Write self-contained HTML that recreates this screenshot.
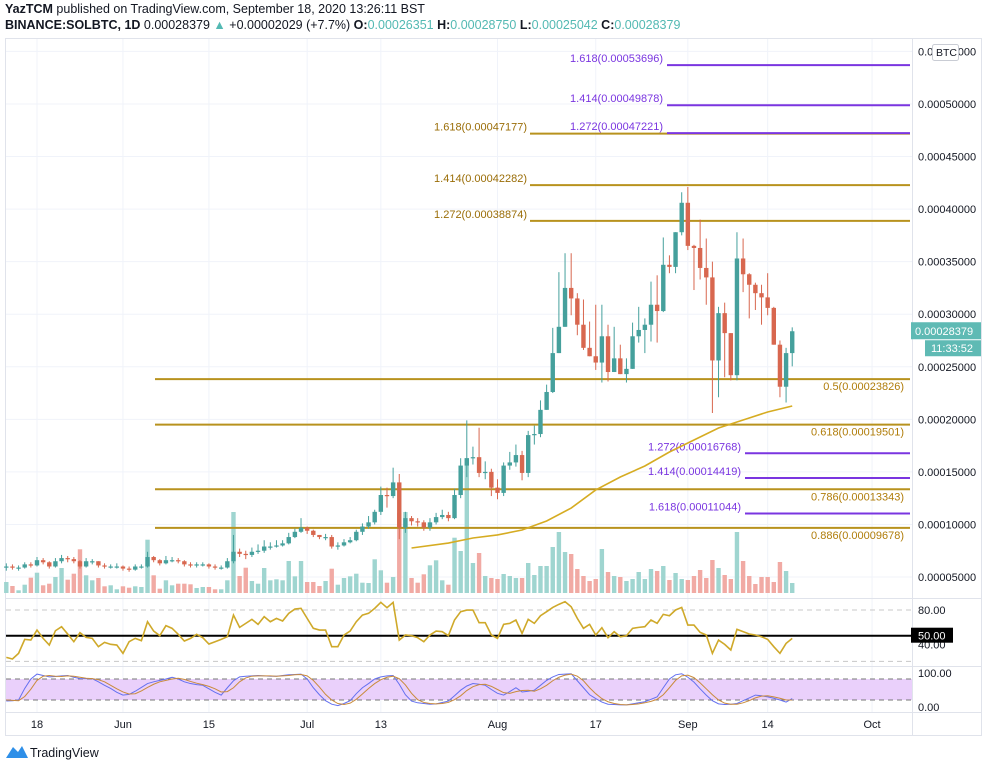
<!DOCTYPE html>
<html><head><meta charset="utf-8">
<style>
body{margin:0;background:#fff;width:987px;height:768px;overflow:hidden;font-family:"Liberation Sans",sans-serif}
#hdr1{position:absolute;left:5px;top:2px;font-size:12.5px;color:#131722}
#hdr2{position:absolute;left:5px;top:18px;font-size:12.5px;color:#131722}
.t{color:#53b9b3}
svg{position:absolute;left:0;top:0}
</style></head><body>
<div id="hdr1"><b>YazTCM</b> published on TradingView.com, September 18, 2020 13:26:11 BST</div>
<div id="hdr2"><b>BINANCE:SOLBTC, 1D</b> 0.00028379 <span class="t">▲</span> +0.00002029 (+7.7%) <b>O:</b><span class="t">0.00026351</span> <b>H:</b><span class="t">0.00028750</span> <b>L:</b><span class="t">0.00025042</span> <b>C:</b><span class="t">0.00028379</span></div>
<svg id="chart" width="987" height="768"></svg>
<script>
// ---- data (prices in 1e-5 BTC) ----
const closes=[6.0,5.9,5.9,6.2,6.1,6.6,6.4,6.0,6.5,6.8,6.7,6.5,6.0,6.5,6.5,6.1,6.0,6.0,6.0,5.8,5.7,6.0,6.0,
6.9,6.6,6.3,6.6,6.6,6.5,6.2,6.1,6.2,6.2,6.0,5.9,5.9,
6.5,7.4,7.2,7.1,7.4,7.5,7.9,7.9,8.0,8.2,8.8,9.3,9.7,9.4,9.0,8.8,8.8,
7.9,8.0,8.3,8.5,9.3,9.8,10.2,11.2,12.8,12.7,14.0,9.7,10.6,10.3,10.2,9.7,10.2,10.7,
10.9,10.6,12.8,15.6,16.3,16.4,14.9,15.0,13.5,13.0,15.6,15.9,16.6,14.9,18.5,18.6,
20.9,22.6,26.3,28.8,32.5,31.5,29.0,26.8,26.0,25.4,27.9,24.5,25.8,24.3,24.8,27.9,28.5,29.0,30.9,30.3,34.7,34.5,37.8,40.6,36.5,36.3,34.4,33.5,25.6,30.1,28.2,24.2,35.3,33.8,32.8,32.0,31.6,30.6,27.1,23.1,26.3,28.379];
const highs=[6.3,6.2,6.1,6.4,6.4,6.9,6.8,6.5,6.8,7.1,7.0,6.9,6.6,6.8,6.7,6.5,6.3,6.2,6.3,6.1,6.0,6.2,6.2,
7.4,7.0,6.7,7.0,6.9,6.8,6.6,6.4,6.4,6.4,6.3,6.2,6.1,
6.8,9.0,7.7,7.5,7.8,8.1,8.5,8.3,8.5,8.5,9.2,9.6,10.6,9.8,9.5,9.0,9.1,
9.0,8.3,8.6,8.8,9.5,10.1,10.8,11.4,13.6,13.5,15.4,14.8,11.2,10.8,10.6,10.4,10.6,11.1,
11.4,11.2,13.4,16.3,19.9,17.4,19.2,16.0,15.3,14.3,15.9,16.9,17.6,17.0,18.9,19.4,
21.8,23.3,28.7,34.0,35.8,35.8,32.0,31.4,29.3,30.9,30.9,29.0,28.8,27.1,25.8,29.2,30.7,29.6,33.1,33.7,37.3,35.6,37.3,41.6,42.1,36.6,39.0,37.2,35.0,30.7,31.1,28.2,37.8,37.2,33.9,33.0,32.8,33.9,30.7,27.5,26.8,28.75];
const lows=[5.6,5.7,5.6,5.8,5.9,6.0,6.2,5.8,5.9,6.3,6.4,6.3,5.8,5.9,6.2,5.9,5.8,5.8,5.8,5.6,5.5,5.6,5.8,
5.9,6.4,6.1,6.2,6.4,6.3,6.0,5.9,5.9,6.0,5.8,5.7,5.7,
5.8,6.3,6.9,6.7,6.9,7.2,7.3,7.6,7.8,7.9,8.1,8.7,9.2,9.1,8.8,8.6,8.5,
7.7,7.6,7.9,8.2,8.4,9.0,9.6,10.0,10.9,11.6,12.5,8.6,9.2,9.9,9.8,9.4,9.4,10.0,
10.5,10.3,10.5,12.5,14.5,15.7,14.5,14.3,12.7,12.4,12.7,15.2,15.5,14.2,14.5,17.6,
18.3,20.9,22.5,27.1,28.8,29.9,28.0,26.6,26.4,24.7,23.5,23.6,24.5,24.9,23.5,25.5,27.3,26.3,27.4,27.3,30.2,33.9,33.9,37.5,36.1,32.3,33.3,30.9,20.6,22.1,24.0,23.7,23.7,32.1,29.6,30.4,29.0,29.9,27.1,22.1,21.6,25.04];
const volumes=[11,7,2.7,8.3,15.3,20.3,7.7,9.3,16,25,13.3,19.3,43.7,17.7,12.7,15,6.7,7.7,3.7,6.7,5.3,6.7,6,53.3,17.7,4.3,12.7,7.7,9.3,9.3,8.7,5,6,6,3.7,3.7,12.7,81,17,25.3,12,9.3,25,12.7,13.7,12.7,32,16.7,32,11,11,7,12,24.3,8.3,15,16.7,19.3,10.3,10,33.7,22.7,10.3,16,80,81,15,10.3,18.7,27.7,32.7,12.7,8.3,55.3,
42,135,30,40,17,15,14,19,17,15,15,30,18,27,27,46,61,41,39,24,17,12,14,44,21,17,16,12,14,21,14,24,22,27,13,20,14,13,17,23,15,33,25,18,14,61,32,17,9,16,16,11,31,22,10];
const maIdx=[66,72,76,80,84,88,92,96,100,104,108,112,116,120,124,128];
const maVal=[7.76,8.23,8.71,9.0,9.47,10.33,11.56,13.28,14.51,15.56,16.89,18.03,19.17,19.94,20.7,21.27];
const rsi=[24.7,22.8,29.4,45.7,44.9,56.6,46.9,39.1,55.8,60.5,51.9,43,53.5,48,46.9,37.2,42.2,39.9,39.1,29.4,43,46.9,44.2,66.3,55.4,50,61.7,58.6,51.6,43.8,46.9,51.6,47.7,40.3,43,45.7,48.8,74.1,59.7,64.4,69.1,63.2,72.2,66.3,70.2,67.1,76.1,81.1,81.9,70.2,58.6,56.6,56.6,37.2,37.2,50.8,55.4,66.3,74.1,76.1,81.9,88.9,82.7,88.9,44.9,50.8,50,47.7,43,50.8,55.4,54.7,50,68.3,78,79.9,79.9,
65.2,65.2,50.8,46.9,63.2,64.4,68.3,52.7,69.1,64.4,73.3,78,83,86.6,89.7,83.8,70.2,58.6,63.2,50.8,59.3,47.7,54.7,48.8,50,58.6,59.7,60.5,68.3,64.4,74.9,73.3,80,83,62.4,62.4,53.9,50.8,29.4,44.9,39.9,33.3,57.4,54.7,52,50.8,48.8,45.7,37.2,29.4,41,46.9];
const stochK=[17,18,20,53,80,94,90,86,87,89,90,85,81,81,81,72,62,53,42,34,36,45,56,67,72,76,80,85,80,72,67,64,62,52,42,34,55,75,86,88,89,90,89,88,88,90,92,93,94,80,55,35,18,8,4,10,18,38,55,67,80,86,89,90,65,35,17,12,10,8,9,13,17,32,48,60,67,65,62,50,39,34,44,55,43,45,48,62,76,86,93,94,95,75,55,35,24,14,8,7,6,6,9,12,15,22,29,55,80,92,95,85,71,52,34,18,9,7,8,10,18,26,34,32,29,25,20,14,24];
const stochD=[20,19,18,30,51,76,88,90,88,87,89,88,85,82,81,78,72,62,52,43,37,38,46,56,65,72,76,80,82,79,73,68,64,59,52,43,44,55,72,83,88,89,89,89,88,89,90,92,93,89,76,57,36,20,10,7,11,22,37,53,67,78,85,88,81,63,39,21,13,10,9,10,13,21,32,47,58,64,65,59,50,41,39,44,47,48,45,52,62,75,85,91,94,88,75,55,38,24,15,10,7,6,7,9,12,16,22,35,55,76,89,91,84,69,52,35,20,11,8,8,12,18,26,31,32,29,25,20,20];
const priceTicks=[5,10,15,20,25,30,35,40,45,50,55];
const dateTicks=[[5,"18"],[19,"Jun"],[33,"15"],[49,"Jul"],[61,"13"],[80,"Aug"],[96,"17"],[111,"Sep"],[124,"14"],[141,"Oct"]];
const fibGold=[[23.826,155,"0.5(0.00023826)","right"],[19.501,155,"0.618(0.00019501)","right"],[13.343,155,"0.786(0.00013343)","right"],[9.678,155,"0.886(0.00009678)","right"],[38.874,530,"1.272(0.00038874)","left"],[42.282,530,"1.414(0.00042282)","left"],[47.177,530,"1.618(0.00047177)","left"]];
const fibPurple=[[53.696,667,"1.618(0.00053696)"],[49.878,667,"1.414(0.00049878)"],[47.221,667,"1.272(0.00047221)"],[16.768,745,"1.272(0.00016768)"],[14.419,745,"1.414(0.00014419)"],[11.044,745,"1.618(0.00011044)"]];

// ---- scales ----
const X=i=>37+(i-5)*6.14;
const PY=p=>577-(p-5)*10.512;
const VY=v=>593-v;
const RY=v=>635.7-(v-50)*0.857;
const SY=v=>707-v*0.35;
const NS="http://www.w3.org/2000/svg";
const svg=document.getElementById('chart');
function el(tag,attrs,parent){const e=document.createElementNS(NS,tag);for(const k in attrs)e.setAttribute(k,attrs[k]);(parent||svg).appendChild(e);return e;}
function txt(s,attrs){const e=el('text',attrs);e.textContent=s;return e;}

// frame & grid
let g=el('g',{});


el('rect',{x:5.5,y:38.5,width:976,height:697,fill:'none',stroke:'#e0e3eb'},g);
priceTicks.forEach(p=>el('line',{x1:6,x2:912,y1:PY(p),y2:PY(p),stroke:'#f0f3fa'},g));
dateTicks.forEach(d=>el('line',{x1:X(d[0]),x2:X(d[0]),y1:39,y2:712,stroke:'#f0f3fa'},g));
el('line',{x1:912.5,x2:912.5,y1:39,y2:735,stroke:'#e0e3eb'},g);
el('line',{x1:6,x2:982,y1:598.5,y2:598.5,stroke:'#e0e3eb'},g);
el('line',{x1:6,x2:982,y1:666.5,y2:666.5,stroke:'#e0e3eb'},g);
el('line',{x1:6,x2:982,y1:712.5,y2:712.5,stroke:'#e0e3eb'},g);

// volume
volumes.forEach((v,i)=>{
  const up=i==0?true:closes[i]>=closes[i-1];
  const r=el('rect',{x:X(i)-2.2,y:VY(v),width:4.4,height:v,fill:up?'#9fd5d0':'#f1aaa4'});
  
  
});

// fib lines
fibGold.forEach(f=>{
  const y=PY(f[0]);
  const l=el('line',{x1:f[1],x2:910,y1:y,y2:y,stroke:'#b8921e','stroke-width':2});
  
  
  if(f[3]=="right"){const t=txt(f[2],{x:904,y:y+11,'font-size':11,fill:'#b07d0a','text-anchor':'end'});}
  else{const t=txt(f[2],{x:527,y:y-3,'font-size':11,fill:'#9a6d07','text-anchor':'end'});}
});
fibPurple.forEach(f=>{
  const y=PY(f[0]);
  const l=el('line',{x1:f[1],x2:910,y1:y,y2:y,stroke:'#7a35e0','stroke-width':2});
  
  
  const t=txt(f[2],{x:f[1]-4,y:y-3,'font-size':11,fill:'#7a35e0','text-anchor':'end'});
  
  
});

// moving average
const ma=el('polyline',{points:maIdx.map((i,k)=>X(i)+','+PY(maVal[k])).join(' '),fill:'none',stroke:'#d6ac22','stroke-width':1.6});



// candles
closes.forEach((c,i)=>{
  const o=i==0?c:closes[i-1];
  const up=c>=o;
  const col=up?'#45a09c':'#d8674f';
  const hi=Math.max(highs[i],o,c),lo=Math.min(lows[i],o,c);
  const cg=el('g',{});
  
  
  el('line',{x1:X(i),x2:X(i),y1:PY(hi),y2:PY(lo),stroke:col,'stroke-width':1},cg);
  const top=PY(Math.max(o,c)),h=Math.max(1.2,PY(Math.min(o,c))-top);
  el('rect',{x:X(i)-2.2,y:top,width:4.4,height:h,fill:col},cg);
});

// RSI
[80,20].forEach(v=>el('line',{x1:6,x2:912,y1:RY(v),y2:RY(v),stroke:'#c8c8c8','stroke-dasharray':'5,4'}));
const mid=el('line',{x1:6,x2:912,y1:RY(50),y2:RY(50),stroke:'#000','stroke-width':2});


const rl=el('polyline',{points:rsi.map((v,i)=>X(i)+','+RY(v)).join(' '),fill:'none',stroke:'#cfa92a','stroke-width':1.6});



// Stoch
const band=el('rect',{x:6,y:SY(80),width:906,height:SY(20)-SY(80),fill:'#ead0fb'});


[80,20].forEach(v=>el('line',{x1:6,x2:912,y1:SY(v),y2:SY(v),stroke:'#777','stroke-dasharray':'5,4'}));
const sk=el('polyline',{points:stochK.map((v,i)=>X(i)+','+SY(v)).join(' '),fill:'none',stroke:'#6470f0','stroke-width':1});


const sd=el('polyline',{points:stochD.map((v,i)=>X(i)+','+SY(v)).join(' '),fill:'none',stroke:'#c98b3c','stroke-width':1});



// axes labels
priceTicks.forEach(p=>{
  const t=txt('0.000'+String(Math.round(p*1000)).padStart(5,'0'),{x:918,y:PY(p)+4,'font-size':11,fill:'#131722'});
  
  
});
const bb=el('rect',{x:932.5,y:44.5,width:26,height:16,fill:'#fff',stroke:'#c9ccd4',rx:2});


txt('BTC',{x:936,y:56,'font-size':10.5,fill:'#131722'});
dateTicks.forEach(d=>{
  const t=txt(d[1],{x:X(d[0]),y:728,'font-size':11,fill:'#131722','text-anchor':'middle'});
  
  
});
const last=closes[closes.length-1];
const pt=el('rect',{x:911,y:PY(last)-9,width:70,height:17,fill:'#5fbab4'});


txt('0.000'+String(Math.round(last*1000)).padStart(5,'0'),{x:915,y:PY(last)+4,'font-size':11,fill:'#fff'});
el('rect',{x:925,y:PY(last)+9,width:56,height:16,fill:'#5fbab4'});
txt('11:33:52',{x:931,y:PY(last)+21,'font-size':11,fill:'#fff'});
txt('80.00',{x:918,y:RY(80)+4,'font-size':11,fill:'#131722'});
txt('40.00',{x:918,y:RY(40)+4,'font-size':11,fill:'#131722'});
const rb=el('rect',{x:911,y:RY(50)-8,width:42,height:15,fill:'#000'});


txt('50.00',{x:918,y:RY(50)+4,'font-size':11,fill:'#fff'});
txt('100.00',{x:918,y:677,'font-size':11,fill:'#131722'});
txt('0.00',{x:918,y:711,'font-size':11,fill:'#131722'});

// footer logo
const lg=el('g',{});


el('path',{d:'M6 758 L13 747 L18 752 L22 746 L28 758 Z',fill:'#2e8fe8'},lg);
const lt=txt('TradingView',{x:30,y:757,'font-size':12.5,fill:'#131722'});
lg.appendChild(lt);
</script>
</body></html>
